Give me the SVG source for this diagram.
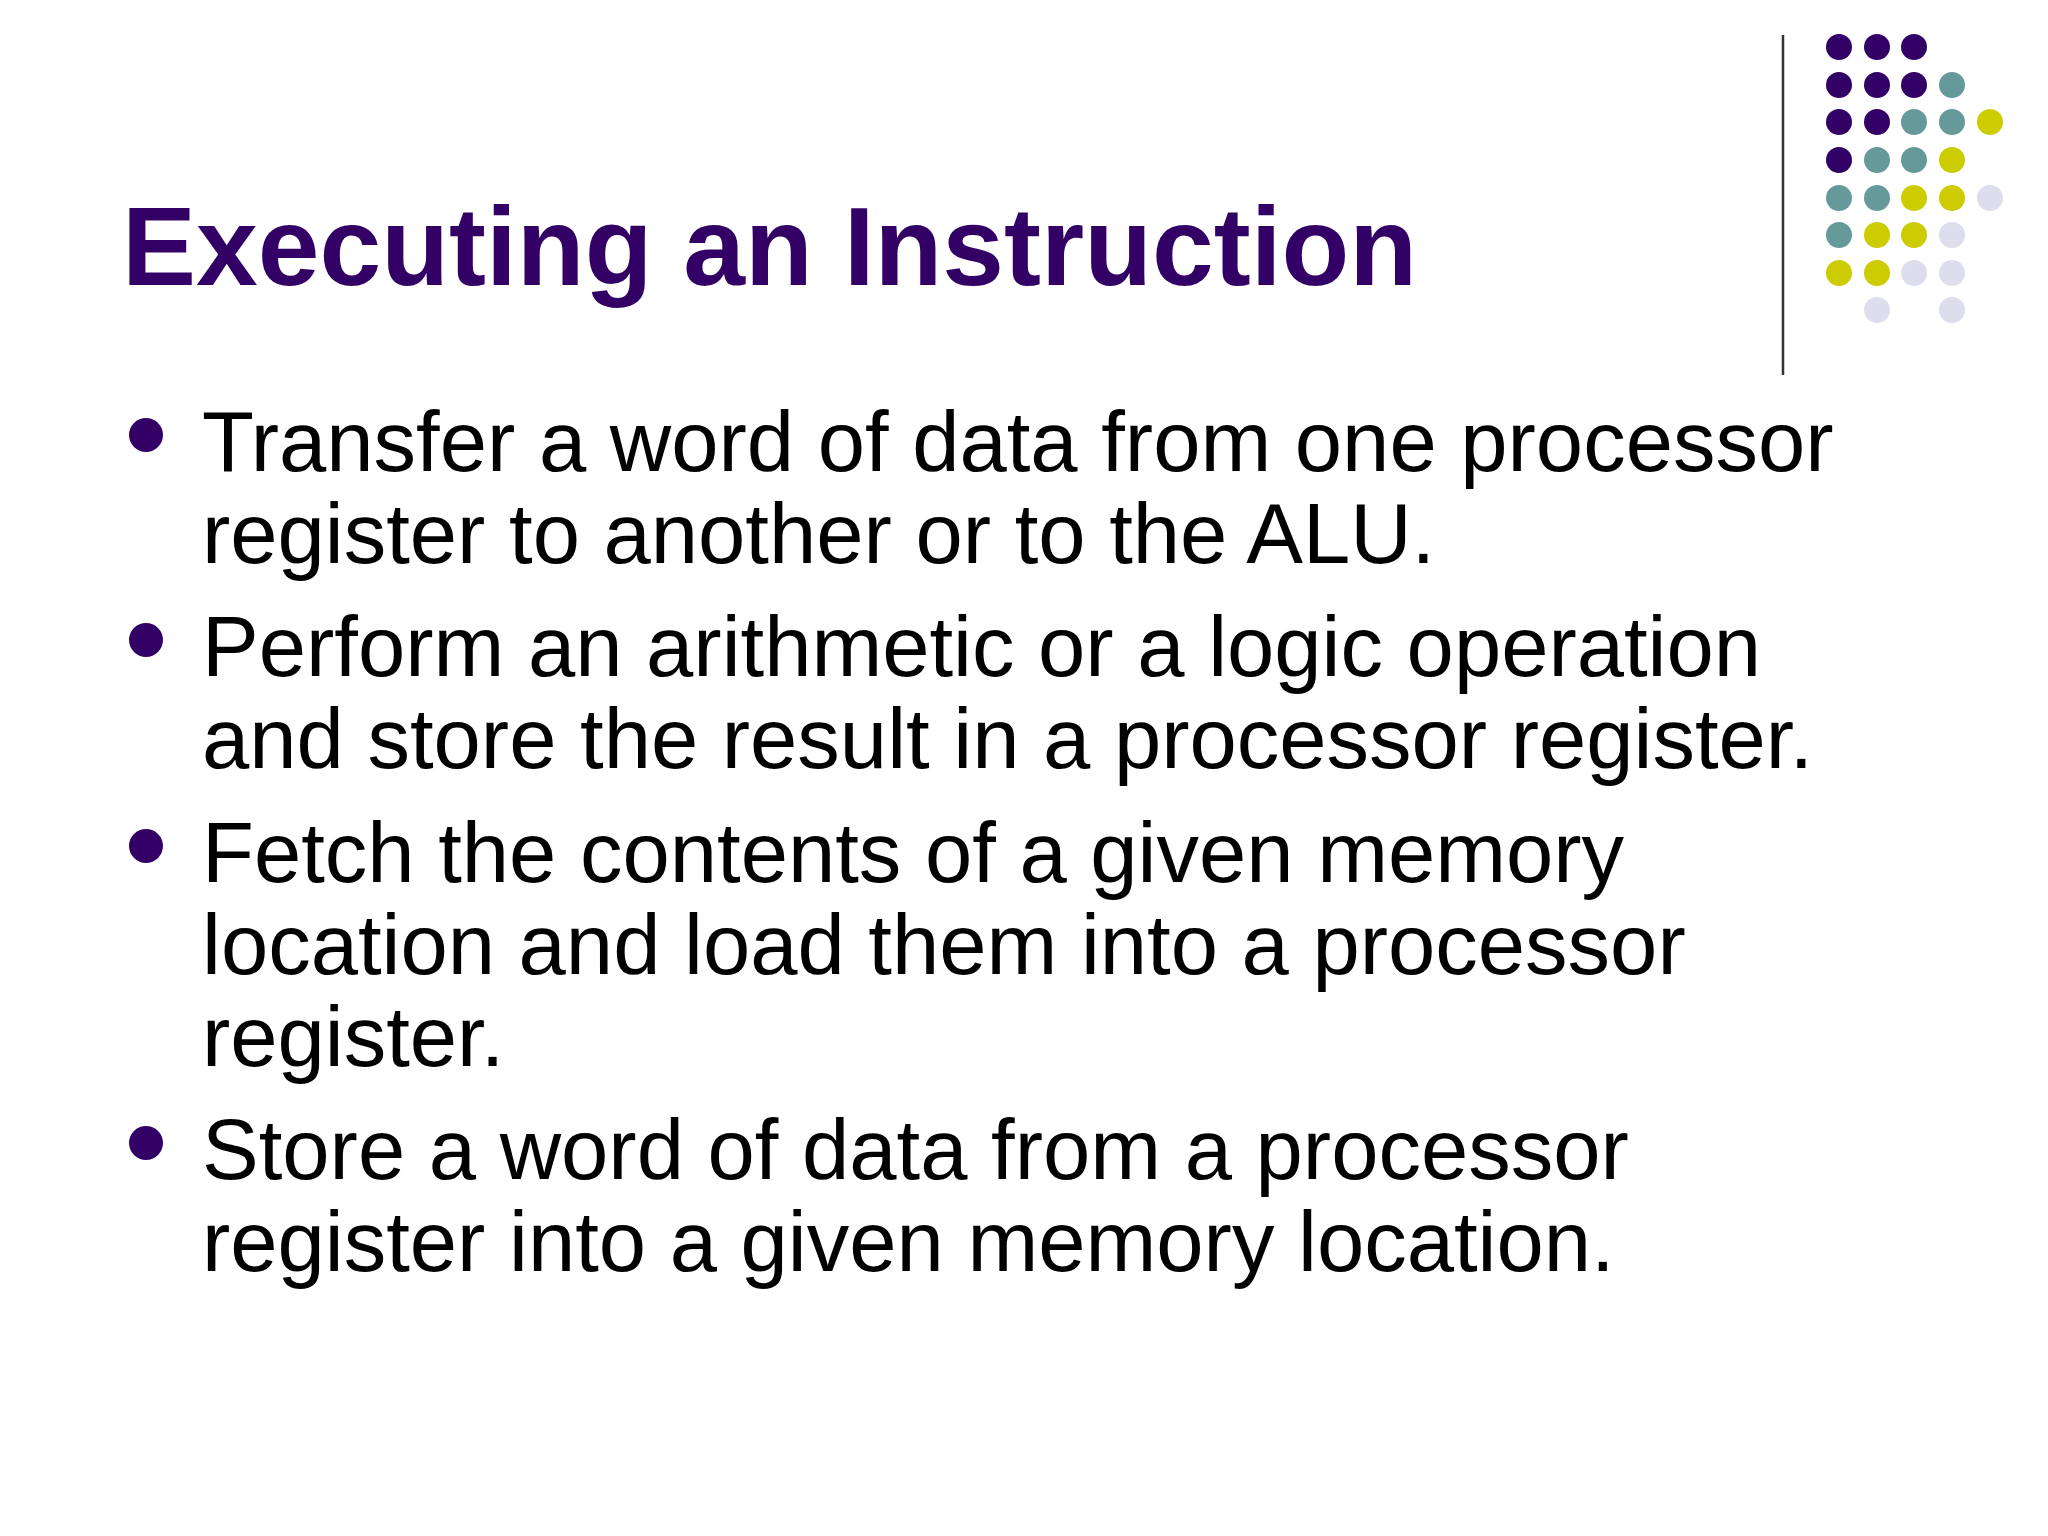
<svg xmlns="http://www.w3.org/2000/svg" width="2048" height="1536" viewBox="0 0 2048 1536">
<style>
.title{font-family:"Liberation Sans",Arial,sans-serif;font-weight:bold;font-size:111px;fill:#330066}
.body{font-family:"Liberation Sans",Arial,sans-serif;font-size:85px;fill:#000}
.bullet{fill:#330066}
.p{fill:#330066}.t{fill:#669999}.y{fill:#CCCC00}.l{fill:#DDDDEE}
</style>
<rect width="2048" height="1536" fill="#fff"/>
<g id="decor">
<line x1="1783" y1="35" x2="1783" y2="375" stroke="#333" stroke-width="2.5"/>
<g id="dots">
<circle class="p" cx="1839" cy="47" r="13"/><circle class="p" cx="1877" cy="47" r="13"/><circle class="p" cx="1914" cy="47" r="13"/>
<circle class="p" cx="1839" cy="85" r="13"/><circle class="p" cx="1877" cy="85" r="13"/><circle class="p" cx="1914" cy="85" r="13"/><circle class="t" cx="1952" cy="85" r="13"/>
<circle class="p" cx="1839" cy="122" r="13"/><circle class="p" cx="1877" cy="122" r="13"/><circle class="t" cx="1914" cy="122" r="13"/><circle class="t" cx="1952" cy="122" r="13"/><circle class="y" cx="1990" cy="122" r="13"/>
<circle class="p" cx="1839" cy="160" r="13"/><circle class="t" cx="1877" cy="160" r="13"/><circle class="t" cx="1914" cy="160" r="13"/><circle class="y" cx="1952" cy="160" r="13"/>
<circle class="t" cx="1839" cy="198" r="13"/><circle class="t" cx="1877" cy="198" r="13"/><circle class="y" cx="1914" cy="198" r="13"/><circle class="y" cx="1952" cy="198" r="13"/><circle class="l" cx="1990" cy="198" r="13"/>
<circle class="t" cx="1839" cy="235" r="13"/><circle class="y" cx="1877" cy="235" r="13"/><circle class="y" cx="1914" cy="235" r="13"/><circle class="l" cx="1952" cy="235" r="13"/>
<circle class="y" cx="1839" cy="273" r="13"/><circle class="y" cx="1877" cy="273" r="13"/><circle class="l" cx="1914" cy="273" r="13"/><circle class="l" cx="1952" cy="273" r="13"/>
<circle class="l" cx="1877" cy="310" r="13"/><circle class="l" cx="1952" cy="310" r="13"/>
</g>
</g>
<g id="title"><text class="title" x="122" y="285">Executing an Instruction</text></g>
<g id="item1">
<circle class="bullet" cx="146" cy="435" r="17"/>
<text class="body" x="202" y="471">Transfer a word of data from one processor</text>
<text class="body" x="202" y="563">register to another or to the ALU.</text>
</g>
<g id="item2">
<circle class="bullet" cx="146" cy="640" r="17"/>
<text class="body" x="202" y="676">Perform an arithmetic or a logic operation</text>
<text class="body" x="202" y="768">and store the result in a processor register.</text>
</g>
<g id="item3">
<circle class="bullet" cx="146" cy="846" r="17"/>
<text class="body" x="202" y="882">Fetch the contents of a given memory</text>
<text class="body" x="202" y="974">location and load them into a processor</text>
<text class="body" x="202" y="1066">register.</text>
</g>
<g id="item4">
<circle class="bullet" cx="146" cy="1143" r="17"/>
<text class="body" x="202" y="1179">Store a word of data from a processor</text>
<text class="body" x="202" y="1271">register into a given memory location.</text>
</g>
</svg>
